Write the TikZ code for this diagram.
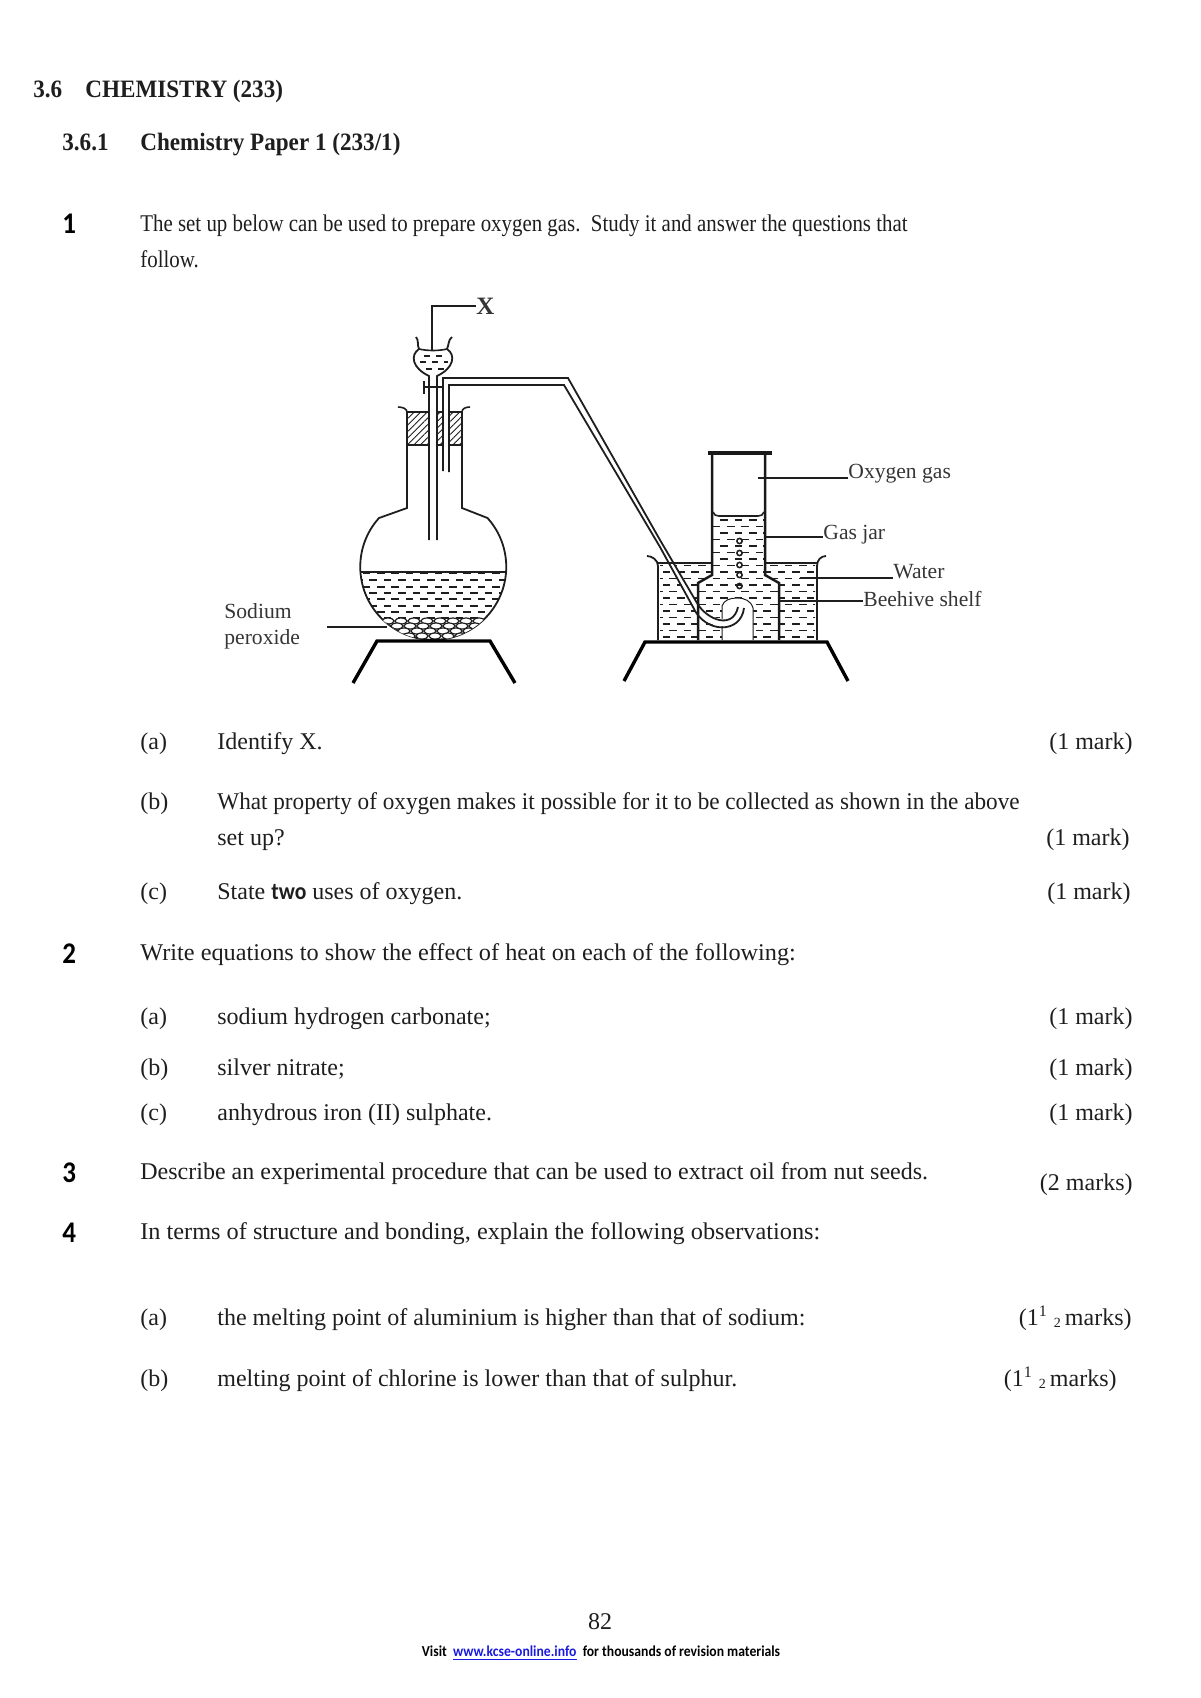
\documentclass[tikz,border=0pt]{standalone}
\usepackage{fontspec}
\usepackage{xcolor}
\setmainfont{Liberation Serif}
\newfontfamily\headnum[FakeStretch=0.9]{Carlito}
\newfontfamily\narrowfont[FakeStretch=0.87]{Liberation Serif}
\newfontfamily\midfont[FakeStretch=0.966]{Liberation Serif}
\newfontfamily\headfont[FakeStretch=0.925]{Liberation Serif}
\newfontfamily\wideline[FakeStretch=1.012]{Liberation Serif}
\usetikzlibrary{patterns.meta}
\definecolor{inkgrey}{HTML}{1E1E1E}
\definecolor{linkblue}{HTML}{1A1AE0}
\begin{document}
\begin{tikzpicture}[x=0.5pt,y=-0.5pt,
  line node/.style={anchor=west,inner sep=0pt,font=\fontsize{12}{14}\selectfont,text=inkgrey,text height=8.5pt,text depth=2.5pt},
  mark node/.style={line node,anchor=east},
  num node/.style={anchor=west,inner sep=0pt,font=\headnum\bfseries\fontsize{15}{17}\selectfont,text=black},
  label node/.style={anchor=west,inner sep=0pt,font=\fontsize{10.8}{13}\selectfont,text=inkgrey!90},
  glass/.style={draw=inkgrey,line width=0.8pt},
  wall/.style={draw=black!90,line width=1.25pt},
  stand/.style={draw=black,line width=1.7pt,line join=miter},
  lead/.style={draw=inkgrey,line width=0.85pt},
  corkfill/.style={glass,pattern={Lines[angle=45,distance=2.3pt,line width=0.45pt]},pattern color=inkgrey},
  waterdash/.style={draw=inkgrey,line width=0.7pt,dash pattern=on 3.8pt off 3.4pt}]
\useasboundingbox (0,0) rectangle (1200,1698);

% page text
\node[line node,font=\headfont\bfseries\fontsize{12.5}{15}\selectfont] (sec) at (33,91) {3.6};
\node[line node,font=\headfont\bfseries\fontsize{12.5}{15}\selectfont] (sectitle) at (85,91) {CHEMISTRY (233)};
\node[line node,font=\headfont\bfseries\fontsize{12.5}{15}\selectfont] (sub) at (62,144) {3.6.1};
\node[line node,font=\headfont\bfseries\fontsize{12.5}{15}\selectfont] (subtitle) at (140,144) {Chemistry Paper 1 (233/1)};
\node[num node] (n1) at (62,224) {1};
\node[line node,font=\narrowfont\fontsize{12}{14}\selectfont] (q1a) at (140,225) {The set up below can be used to prepare oxygen gas.\ \ Study it and answer the questions that};
\node[line node,font=\narrowfont\fontsize{12}{14}\selectfont] (q1b) at (140,261) {follow.};
\node[line node] (a1) at (140,743) {(a)};
\node[line node] (a1t) at (217,743) {Identify X.};
\node[mark node] (a1m) at (1133,743) {(1 mark)};
\node[line node] (b1) at (140,803) {(b)};
\node[line node,font=\midfont\fontsize{12}{14}\selectfont] (b1t) at (217,803) {What property of oxygen makes it possible for it to be collected as shown in the above};
\node[line node] (b1u) at (217,839) {set up?};
\node[mark node] (b1m) at (1130,839) {(1 mark)};
\node[line node] (c1) at (140,893) {(c)};
\node[line node] (c1t) at (217,893) {State {\headnum\bfseries two} uses of oxygen.};
\node[mark node] (c1m) at (1131,893) {(1 mark)};
\node[num node] (n2) at (62,954) {2};
\node[line node,font=\wideline\fontsize{12}{14}\selectfont] (q2) at (140,954) {Write equations to show the effect of heat on each of the following:};
\node[line node] (a2) at (140,1018) {(a)};
\node[line node] (a2t) at (217,1018) {sodium hydrogen carbonate;};
\node[mark node] (a2m) at (1133,1018) {(1 mark)};
\node[line node] (b2) at (140,1069) {(b)};
\node[line node] (b2t) at (217,1069) {silver nitrate;};
\node[mark node] (b2m) at (1133,1069) {(1 mark)};
\node[line node] (c2) at (140,1114) {(c)};
\node[line node] (c2t) at (217,1114) {anhydrous iron (II) sulphate.};
\node[mark node] (c2m) at (1133,1114) {(1 mark)};
\node[num node] (n3) at (62,1173) {3};
\node[line node] (q3) at (140,1173) {Describe an experimental procedure that can be used to extract oil from nut seeds.};
\node[mark node] (q3m) at (1133,1184) {(2 marks)};
\node[num node] (n4) at (62,1233) {4};
\node[line node,font=\wideline\fontsize{12}{14}\selectfont] (q4) at (140,1233) {In terms of structure and bonding, explain the following observations:};
\node[line node] (a4) at (140,1319) {(a)};
\node[line node] (a4t) at (217,1319) {the melting point of aluminium is higher than that of sodium:};
\node[mark node] (a4m) at (1132,1319) {(1\textsuperscript{1} \raisebox{-1pt}{\scriptsize 2}\,marks)};
\node[line node] (b4) at (140,1380) {(b)};
\node[line node] (b4t) at (217,1380) {melting point of chlorine is lower than that of sulphur.};
\node[mark node] (b4m) at (1117,1380) {(1\textsuperscript{1} \raisebox{-1pt}{\scriptsize 2}\,marks)};
\node[line node,anchor=center] (page) at (600,1623) {82};
\node[anchor=center,inner sep=0pt,font=\headnum\bfseries\fontsize{7.6}{9}\selectfont] (visit) at (601,1653) {Visit\ \ {\color{linkblue}\underline{www.kcse-online.info}}\ \ for thousands of revision materials};

% round flask
\draw[glass,line width=0.9pt] (407,445) -- (407,508) -- (379,518) arc[start angle=222,end angle=-42,radius=73] -- (462,508) -- (462,445);
\begin{scope}
  \clip (433,567) circle (73);
  \foreach \y [count=\i] in {573,580,587,593,599,606,612,618} {
    \pgfmathsetmacro\ph{mod(\i,2)*3.4}
    \draw[waterdash,dash phase=\ph pt] (355,\y) -- (512,\y);
  }
  \draw[glass] (355,572) -- (512,572);
  \foreach \y/\st in {621/388,626/384,631/391,636/396} {
    \foreach \k in {0,...,7} {
      \draw[glass,fill=white,line width=0.6pt] (\st+\k*13,\y) ellipse (6 and 3);
    }
  }
\end{scope}
% stopper and lips
\draw[corkfill] (407,412) rectangle (429,445);
\draw[corkfill] (437,412) rectangle (443,445);
\draw[corkfill] (449,412) rectangle (462,445);
\draw[glass] (398,407) .. controls (403,407) and (407,409) .. (407,412);
\draw[glass] (470,407) .. controls (465,407) and (462,409) .. (462,412);

% dropping funnel
\draw[glass,line width=0.9pt] (416,337) .. controls (419,340) and (417,345) .. (419,349) .. controls (410,355) and (412,368) .. (429,376) -- (429,540);
\draw[glass,line width=0.9pt] (452,337) .. controls (448,340) and (449,345) .. (447,349) .. controls (456,355) and (454,368) .. (437,376) -- (437,540);
\draw[glass] (419,349) .. controls (428,351) and (438,351) .. (447,349);
\draw[waterdash,dash pattern=on 3pt off 3pt] (424,356) -- (444,356);
\draw[waterdash,dash pattern=on 3pt off 3pt] (420,362) -- (448,362);
\draw[waterdash,dash pattern=on 3pt off 3pt] (426,369) -- (444,369);
\draw[glass,line width=1pt] (424,387) -- (442,387);
\draw[glass,line width=1pt] (424,381) -- (424,394);

% trough water and jar water
\begin{scope}
  \clip (660,564) -- (712,564) -- (712,516) -- (765,516) -- (765,564) -- (815,564) -- (815,638) -- (660,638) -- cycle;
  \foreach \y [count=\i] in {520,526.5,...,637} {
    \pgfmathsetmacro\ph{mod(\i,2)*3.4}
    \draw[waterdash,dash phase=\ph pt] (655,\y) -- (820,\y);
  }
\end{scope}
\path[fill=white] (722,640) -- (722,606) .. controls (724,600) and (730,598) .. (737,598) .. controls (745,598) and (751,601) .. (753,608) -- (753,640) -- cycle;
\draw[glass,line width=0.5pt] (722,640) -- (722,606) .. controls (724,600) and (730,598) .. (737,598) .. controls (745,598) and (751,601) .. (753,608) -- (753,640);

% delivery tube
\path[fill=white] (564,385) -- (660,547) -- (693,607) .. controls (705,632) and (740,632) .. (744,608) -- (738,607) .. controls (732,628) and (706,618) .. (697,603) -- (660,540) -- (568,378) -- cycle;
\draw[glass,line width=0.9pt] (443,471) -- (443,378) -- (568,378) -- (660,540) -- (697,603) .. controls (707,620) and (733,630) .. (738,607);
\draw[glass,line width=0.9pt] (449,472) -- (449,385) -- (564,385) -- (660,547) -- (693,607) .. controls (705,634) and (741,634) .. (744,608);

% trough, gas jar and beehive shelf
\draw[glass,line width=0.9pt] (647,556) .. controls (652,556) and (658,560) .. (658,566) -- (658,640);
\draw[glass,line width=0.9pt] (826,556) .. controls (821,556) and (817,560) .. (817,566) -- (817,640);
\draw[glass] (658,563) -- (712,563);
\draw[glass] (765,563) -- (817,563);
\draw[wall,line width=1.7pt] (708,453) -- (772,453);
\draw[wall] (712,453) -- (712,575) -- (698,583) -- (698,640);
\draw[wall] (765,453) -- (765,575) -- (779,583) -- (779,640);
\draw[glass] (713,512) .. controls (714,515) and (716,516) .. (719,516) -- (758,516) .. controls (761,516) and (763,515) .. (764,512);
\foreach \y in {541,553,565,575,586} {
  \draw[glass] (739.5,\y) circle (2.6);
}

% tripod stands
\draw[stand] (353,683) -- (377,641) -- (490,641) -- (515,683);
\draw[stand] (624,681) -- (645,642) -- (827,642) -- (848,681);

% labels and lead lines
\node[label node,font=\bfseries\fontsize{12.5}{15}\selectfont] (xlabel) at (476,306) {X};
\coordinate (funneltop) at (432,350);
\draw[lead,line width=1.1pt] (funneltop) -- (432,306) -- (xlabel.west);
\node[label node] (oxygen) at (848,474) {Oxygen gas};
\coordinate (oxygenend) at (758,478);
\draw[lead] (oxygenend) -- (oxygen.west |- oxygenend);
\node[label node] (gasjar) at (823,535) {Gas jar};
\coordinate (jarend) at (766,537);
\draw[lead] (jarend) -- (gasjar.west |- jarend);
\node[label node] (water) at (893,572) {Water};
\coordinate (waterend) at (800,578);
\draw[lead] (waterend) -- (water.west |- waterend);
\node[label node] (shelf) at (863,599) {Beehive shelf};
\coordinate (shelfend) at (779,601);
\draw[lead] (shelfend) -- (shelf.west |- shelfend);
\node[label node] (sodium) at (224,611) {Sodium};
\node[label node] (peroxide) at (224,639) {peroxide};
\coordinate (peroxideend) at (387,627);
\draw[lead] (peroxideend) -- (327,627);
\end{tikzpicture}
\end{document}
